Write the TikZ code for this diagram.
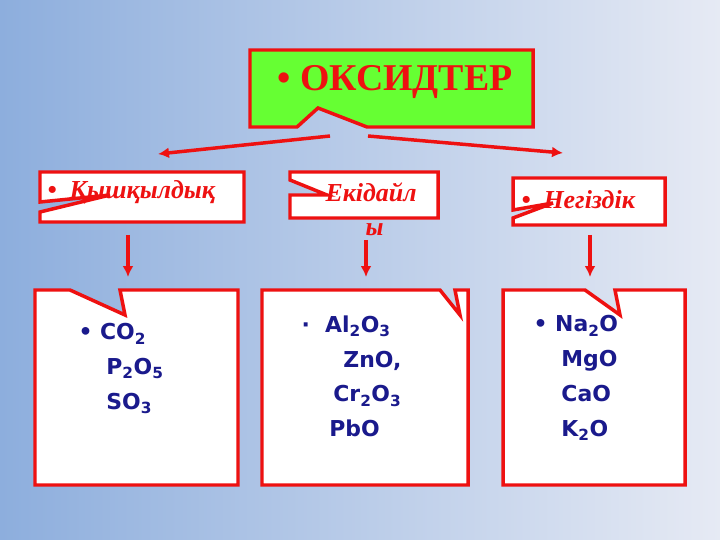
\documentclass[tikz,border=0pt]{standalone}
\usetikzlibrary{arrows.meta}
\usepackage{fontspec}
\setmainfont{Liberation Serif}
\newfontfamily\sfb{DejaVu Sans}
\definecolor{rd}{HTML}{EE1111}
\definecolor{gr}{HTML}{66FF33}
\definecolor{bl}{HTML}{1A1A8C}
\definecolor{bgl}{HTML}{8DAEDD}
\definecolor{bgr}{HTML}{E6EAF4}
\begin{document}
\begin{tikzpicture}[x=1bp,y=-1bp,
  edge/.style={draw=rd,line width=3.5pt},
  arr/.style={draw=rd,line width=3.5pt,-{Latex[length=11pt,width=11pt]}},
  lab/.style={text=rd,font=\bfseries\itshape\fontsize{26}{30}\selectfont,anchor=west},
  chem/.style={text=bl,font=\sfb\bfseries\fontsize{22}{35}\selectfont,align=left,anchor=north west}]
\useasboundingbox (0,0) rectangle (720,540);
\shade[left color=bgl,right color=bgr] (0,0) rectangle (720,540);
% top box
\filldraw[edge,fill=gr] (250,50) -- (533,50) -- (533,127) -- (367,127) -- (318,108) -- (297,127) -- (250,127) -- cycle;
\node[text=rd,font=\bfseries\fontsize{38}{44}\selectfont] (top) at (395,82) {\textbullet\ ОКСИДТЕР};
% mid boxes
\filldraw[edge,fill=white] (40,172) -- (244,172) -- (244,222) -- (40,222) -- (40,212) -- (110,195) -- (40,202) -- cycle;
\node[lab] (a) at (44,192) {\textbullet\ \ Қышқылдық};
\filldraw[edge,fill=white] (290,172) -- (438,172) -- (438,218) -- (290,218) -- (290,195) -- (327,195) -- (290,180) -- cycle;
\node[lab] (b) at (322,192) {Екідайл};
\node[lab] (b2) at (362,230) {ы};
\filldraw[edge,fill=white] (513,178) -- (665,178) -- (665,225) -- (513,225) -- (513,218) -- (553,203) -- (513,210) -- cycle;
\node[lab] (c) at (518,200) {\textbullet\ \ Негіздік};
% arrows
\coordinate (t1) at (330,136); \coordinate (t2) at (368,136);
\coordinate (l1) at (158,154); \coordinate (r1) at (563,153);
\draw[arr] (t1) -- (l1);
\draw[arr] (t2) -- (r1);
\coordinate (d1) at (128,235); \coordinate (e1) at (128,277);
\coordinate (d2) at (366,240); \coordinate (e2) at (366,277);
\coordinate (d3) at (590,235); \coordinate (e3) at (590,277);
\draw[arr] (d1) -- (e1); \draw[arr] (d2) -- (e2); \draw[arr] (d3) -- (e3);
% bottom boxes
\filldraw[edge,fill=white] (35,290) -- (70,290) -- (125,315) -- (120,290) -- (238,290) -- (238,485) -- (35,485) -- cycle;
\node[chem] (x) at (75,320) {\textbullet\ CO\textsubscript{2}\\\hspace{28pt}P\textsubscript{2}O\textsubscript{5}\\\hspace{28pt}SO\textsubscript{3}};
\filldraw[edge,fill=white] (262,290) -- (440,290) -- (460,315) -- (455,290) -- (468,290) -- (468,485) -- (262,485) -- cycle;
\node[chem] (y) at (298,312) {\textperiodcentered\ \ Al\textsubscript{2}O\textsubscript{3}\\\hspace{42pt}ZnO,\\\hspace{32pt}Cr\textsubscript{2}O\textsubscript{3}\\\hspace{28pt}PbO};
\filldraw[edge,fill=white] (503,290) -- (585,290) -- (620,315) -- (615,290) -- (685,290) -- (685,485) -- (503,485) -- cycle;
\node[chem] (z) at (530,312) {\textbullet\ Na\textsubscript{2}O\\\hspace{28pt}MgO\\\hspace{28pt}CaO\\\hspace{28pt}K\textsubscript{2}O};
\end{tikzpicture}
\end{document}
